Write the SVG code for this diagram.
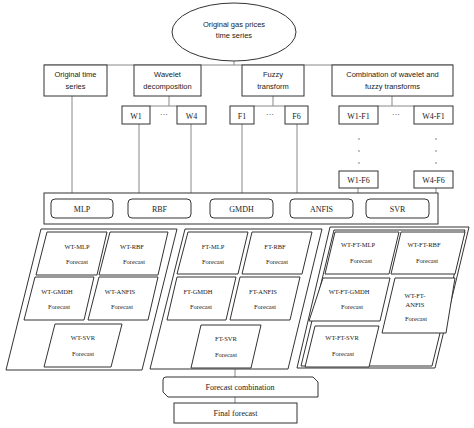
<svg xmlns="http://www.w3.org/2000/svg" width="474" height="428" viewBox="0 0 474 428">
<style>
.bx{fill:#fff;stroke:#333;stroke-width:1}
.pg{fill:#fff;stroke:#333;stroke-width:1}
.ln{fill:none;stroke:#888;stroke-width:1}
.sans{font-family:"Liberation Sans",Arial,sans-serif;font-size:7.5px;fill:#222;text-anchor:middle}
.ser{font-family:"Liberation Serif","Times New Roman",serif;font-size:8px;fill:#222;text-anchor:middle}
.sm{font-family:"Liberation Serif","Times New Roman",serif;font-size:6.5px;fill:#222;text-anchor:middle}
.dot{fill:#555}
</style>
<rect width="474" height="428" fill="#fff"/>
<g id="connectors">
<path class="ln" d="M234,61 V65 M44,65 H453"/>
<path class="ln" d="M72,96 V193"/>
<path class="ln" d="M169,96 V106 M150,106 H177"/>
<path class="ln" d="M273,96 V106 M254,106 H285"/>
<path class="ln" d="M392,96 V106 M378,106 H414"/>
<path class="ln" d="M139,124 V193 M191,124 V193 M242,124 V193 M297,124 V193 M358,188 V193 M436,188 V193"/>
<path class="ln" d="M235,368 V377 M235,397 V403"/>
</g>
<g id="source">
<ellipse cx="234" cy="32" rx="62" ry="29" class="bx"/>
<text class="sans" x="234" y="26.8" font-size="8">Original gas prices</text>
<text class="sans" x="234" y="37.8" font-size="8">time series</text>
</g>
<g id="orig">
<rect class="bx" x="44" y="65" width="63" height="31"/>
<text class="sans" x="75.5" y="76.6">Original time</text>
<text class="sans" x="75.5" y="88.6">series</text>
</g>
<g id="wavelet">
<rect class="bx" x="134" y="65" width="67" height="31"/>
<text class="sans" x="167.5" y="76.6">Wavelet</text>
<text class="sans" x="167.5" y="88.6">decomposition</text>
</g>
<g id="fuzzy">
<rect class="bx" x="242" y="65" width="62" height="31"/>
<text class="sans" x="273" y="76.6">Fuzzy</text>
<text class="sans" x="273" y="88.6">transform</text>
</g>
<g id="combo">
<rect class="bx" x="332" y="65" width="121" height="31"/>
<text class="sans" x="392.5" y="76.6">Combination of wavelet and</text>
<text class="sans" x="392.5" y="88.6">fuzzy transforms</text>
</g>
<g id="w1"><rect class="bx" x="122" y="106" width="28" height="18"/><text class="ser" x="136" y="118.8">W1</text></g>
<text class="ser" x="164" y="117">···</text>
<g id="w4"><rect class="bx" x="177" y="106" width="29" height="18"/><text class="ser" x="191.5" y="118.8">W4</text></g>
<g id="f1"><rect class="bx" x="230" y="106" width="24" height="18"/><text class="ser" x="242" y="118.8">F1</text></g>
<text class="ser" x="270" y="117">···</text>
<g id="f6"><rect class="bx" x="285" y="106" width="23" height="18"/><text class="ser" x="296.5" y="118.8">F6</text></g>
<g id="w1f1"><rect class="bx" x="339" y="106" width="39" height="18"/><text class="ser" x="358.5" y="118.8">W1-F1</text></g>
<text class="ser" x="396" y="117">···</text>
<g id="w4f1"><rect class="bx" x="414" y="106" width="39" height="18"/><text class="ser" x="433.5" y="118.8">W4-F1</text></g>
<g id="vdots">
<circle class="dot" cx="359" cy="139" r="0.7"/><circle class="dot" cx="359" cy="151" r="0.7"/><circle class="dot" cx="359" cy="163" r="0.7"/>
<circle class="dot" cx="436" cy="139" r="0.7"/><circle class="dot" cx="436" cy="151" r="0.7"/><circle class="dot" cx="436" cy="163" r="0.7"/>
</g>
<g id="w1f6"><rect class="bx" x="339" y="171" width="39" height="17"/><text class="ser" x="358.5" y="182.5">W1-F6</text></g>
<g id="w4f6"><rect class="bx" x="414" y="171" width="39" height="17"/><text class="ser" x="433.5" y="182.5">W4-F6</text></g>
<g id="models">
<rect class="bx" x="44" y="193" width="394" height="31"/>
<rect class="bx" x="51" y="199" width="62" height="19" rx="4"/><text class="ser" x="82" y="211.8">MLP</text>
<rect class="bx" x="128" y="199" width="63" height="19" rx="4"/><text class="ser" x="159.5" y="211.8">RBF</text>
<rect class="bx" x="210" y="199" width="63" height="19" rx="4"/><text class="ser" x="241.5" y="211.8">GMDH</text>
<rect class="bx" x="290" y="199" width="63" height="19" rx="4"/><text class="ser" x="321.5" y="211.8">ANFIS</text>
<rect class="bx" x="366" y="199" width="63" height="19" rx="4"/><text class="ser" x="397.5" y="211.8">SVR</text>
</g>
<g id="wt-group">
<polygon class="pg" points="41,229 177,229 142,370 6,370"/>
<g id="wt-mlp"><polygon class="pg" points="47,232 107,232 97,275 36,275"/><text class="sm" x="77" y="249.3">WT-MLP</text><text class="sm" x="77" y="264.3">Forecast</text></g>
<g id="wt-rbf"><polygon class="pg" points="110,232 168,232 158,275 99,275"/><text class="sm" x="132" y="249.3">WT-RBF</text><text class="sm" x="134" y="264.3">Forecast</text></g>
<g id="wt-gmdh"><polygon class="pg" points="35,277 94,277 84,320 24,320"/><text class="sm" x="57" y="294.3">WT-GMDH</text><text class="sm" x="59" y="309.3">Forecast</text></g>
<g id="wt-anfis"><polygon class="pg" points="99,277 158,277 148,320 88,320"/><text class="sm" x="120" y="294.3">WT-ANFIS</text><text class="sm" x="122" y="309.3">Forecast</text></g>
<g id="wt-svr"><polygon class="pg" points="55,324 122,324 111,367 44,367"/><text class="sm" x="83" y="340.3">WT-SVR</text><text class="sm" x="83" y="356.3">Forecast</text></g>
</g>
<g id="ft-group">
<polygon class="pg" points="185,229 322,229 288,369 150,369"/>
<g id="ft-mlp"><polygon class="pg" points="188,232 248,232 238,274 177,274"/><text class="sm" x="213" y="249.3">FT-MLP</text><text class="sm" x="213" y="264.3">Forecast</text></g>
<g id="ft-rbf"><polygon class="pg" points="252,232 312,232 302,274 242,274"/><text class="sm" x="275" y="249.3">FT-RBF</text><text class="sm" x="277" y="264.3">Forecast</text></g>
<g id="ft-gmdh"><polygon class="pg" points="177,277 236,277 226,320 167,320"/><text class="sm" x="198" y="294.3">FT-GMDH</text><text class="sm" x="201" y="309.3">Forecast</text></g>
<g id="ft-anfis"><polygon class="pg" points="240,277 300,277 290,320 230,320"/><text class="sm" x="263" y="294.3">FT-ANFIS</text><text class="sm" x="265" y="309.3">Forecast</text></g>
<g id="ft-svr"><polygon class="pg" points="201,325 261,325 251,368 191,368"/><text class="sm" x="226" y="341.3">FT-SVR</text><text class="sm" x="226" y="357.3">Forecast</text></g>
</g>
<g id="wtft-group">
<polygon class="pg" points="330,227 469,227 435,368 297,368"/>
<polygon class="pg" points="334,230 465,230 432,366 301,366"/>
<g id="wtft-mlp"><polygon class="pg" points="335,232 399,232 389,274 325,274"/><text class="sm" x="358" y="247.3">WT-FT-MLP</text><text class="sm" x="361" y="263.3">Forecast</text></g>
<g id="wtft-rbf"><polygon class="pg" points="401,232 465,232 455,274 391,274"/><text class="sm" x="424" y="247.3">WT-FT-RBF</text><text class="sm" x="427" y="263.3">Forecast</text></g>
<g id="wtft-gmdh"><polygon class="pg" points="323,278 390,278 380,321 309,321"/><text class="sm" x="349" y="294.3">WT-FT-GMDH</text><text class="sm" x="352" y="309.3">Forecast</text></g>
<g id="wtft-anfis"><polygon class="pg" points="395,278 455,278 446,333 382,333"/><text class="sm" x="415" y="298.3">WT-FT-</text><text class="sm" x="415" y="307.3">ANFIS</text><text class="sm" x="416" y="321">Forecast</text></g>
<g id="wtft-svr"><polygon class="pg" points="315,326 379,326 369,367 305,367"/><text class="sm" x="342" y="340.3">WT-FT-SVR</text><text class="sm" x="343" y="356.3">Forecast</text></g>
</g>
<g id="fc-combination">
<path class="bx" d="M166,377 H313 L318,382 V397 H168 L163,392 V380 Q163,377 166,377 Z"/>
<text class="ser" x="240" y="390" font-size="8.5">Forecast combination</text>
</g>
<g id="final">
<rect class="bx" x="174" y="403" width="123" height="20"/>
<text class="ser" x="235.5" y="416" font-size="8.5">Final forecast</text>
</g>
</svg>
